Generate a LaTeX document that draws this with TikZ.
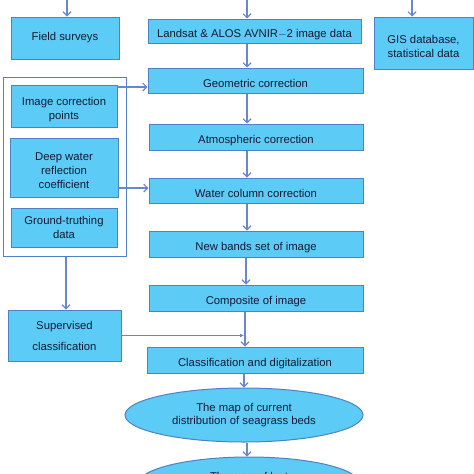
\documentclass[tikz,border=0pt]{standalone}
\usepackage{fontspec}
\setmainfont{Liberation Sans}
\usetikzlibrary{arrows.meta,shapes.geometric}
\definecolor{boxfill}{RGB}{92,203,245}
\definecolor{boxline}{RGB}{79,129,199}
\definecolor{arrline}{RGB}{105,135,205}
\definecolor{txt}{RGB}{20,25,50}
\newcommand{\lowstrut}{\rule{0pt}{14.5pt}}
\tikzset{
  box/.style={draw=boxline, fill=boxfill, line width=1pt, inner sep=0pt, align=center,
    text=txt, font=\fontsize{11.3}{13.8}\selectfont},
  low/.style={execute at begin node={\lowstrut}},
  oval/.style={box, ellipse},
  arr/.style={draw=arrline, line width=1.1pt, -{Straight Barb[length=4pt,width=8pt]}}
}

\begin{document}
\begin{tikzpicture}[x=1pt,y=-1pt]
   \useasboundingbox (0,0) rectangle (474,474);
   \clip (0,0) rectangle (474,474);

   \node[box, minimum width=108, minimum height=42] (field) at (65,38) {Field surveys};
   \node[box, low, minimum width=213, minimum height=24] (landsat) at (254.5,31) {Landsat \& ALOS AVNIR$-$2 image data};
   \node[box, minimum width=99, minimum height=52] (gis) at (423.5,43) {\lowstrut GIS database,\\statistical data};

   \node[draw=boxline, fill=white, line width=1pt, minimum width=123, minimum height=179] (frame) at (64.5,166.5) {};
   \node[box, minimum width=106, minimum height=42] (imgcorr) at (64,106) {\rule{0pt}{16pt}Image correction\\points};
   \node[box, minimum width=108, minimum height=59] (deep) at (64,167.5) {\lowstrut Deep water\\reflection\\coefficient};
   \node[box, minimum width=106, minimum height=39] (ground) at (64,227.5) {Ground-truthing\\data};
   \node[box, minimum width=113, minimum height=51, font=\fontsize{11.3}{21}\selectfont] (superv) at (64.5,335.5) {Supervised\\classification};

   \node[box, low, minimum width=215, minimum height=25] (geom) at (255.5,80.5) {Geometric correction};
   \node[box, low, minimum width=214, minimum height=26] (atmos) at (256,137) {Atmospheric correction};
   \node[box, low, minimum width=214, minimum height=25] (water) at (256,190.5) {Water column correction};
   \node[box, low, minimum width=214, minimum height=26] (bands) at (256,244) {New bands set of image};
   \node[box, low, minimum width=214, minimum height=26] (compos) at (256,298) {Composite of image};
   \node[box, low, minimum width=216, minimum height=26] (classif) at (255,360) {Classification and digitalization};
   \node[oval, minimum width=238, minimum height=54] (curmap) at (244,415) {The map of current\\distribution of seagrass beds};
   \node[oval, minimum width=222, minimum height=54] (lostmap) at (249,484) {The map of lost\\seagrass beds};

   \coordinate (intop1) at (67,0);
   \coordinate (intop2) at (247,0);
   \coordinate (intop3) at (412,0);
   \coordinate (join) at (245,335.5);

   \draw[arr] (intop1) -- (intop1 |- field.north);
   \draw[arr] (intop2) -- (intop2 |- landsat.north);
   \draw[arr] (intop3) -- (intop3 |- gis.north);

   \draw[arr] (landsat.south -| 247,0) -- (geom.north -| 247,0);
   \draw[arr] (geom.south -| 247,0) -- (atmos.north -| 247,0);
   \draw[arr] (atmos.south -| 247,0) -- (water.north -| 247,0);
   \draw[arr] (water.south -| 247,0) -- (bands.north -| 247,0);
   \draw[arr] (bands.south -| 246,0) -- (compos.north -| 246,0);
   \draw[arr] (compos.south -| join) -- (classif.north -| join);
   \draw[arr] (classif.south -| 244,0) -- (curmap.north -| 244,0);
   \draw[arr] (curmap.south -| 247,0) -- (lostmap.north -| 247,0);

   \draw[arr] (imgcorr.east |- 0,87) -- (geom.west |- 0,87);
   \draw[arr] (deep.east |- 0,188) -- (water.west |- 0,188);
   \draw[arr] (frame.south -| 66,0) -- (superv.north -| 66,0);
   \draw[arr, -{Latex[length=4pt,width=4pt]}] (superv.east |- join) -- ([xshift=-1]join);
\end{tikzpicture}
\end{document}
